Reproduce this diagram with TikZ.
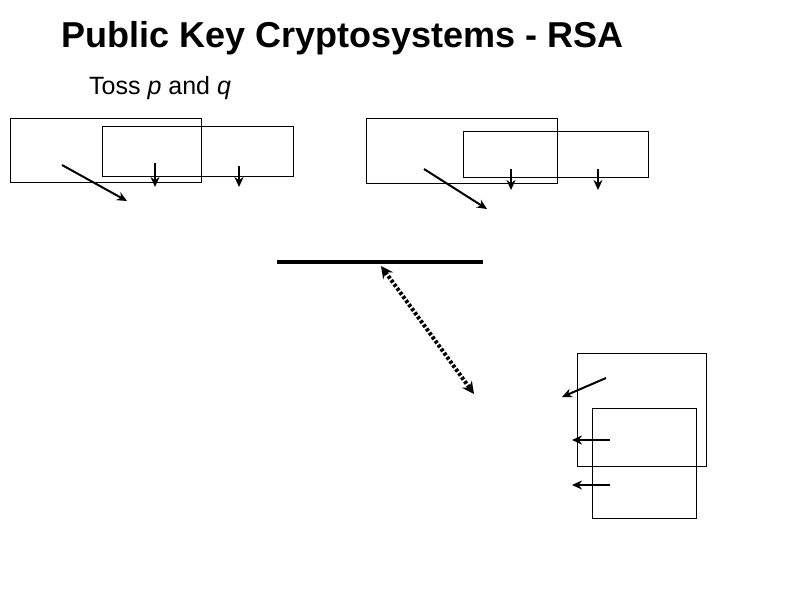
\documentclass[tikz,border=0pt]{standalone}
\usepackage{fontspec}
\setmainfont{Liberation Sans}
\usetikzlibrary{arrows.meta}
\begin{document}
\begin{tikzpicture}[x=1pt,y=-1pt,
  box/.style={draw,line width=1pt},
  arr/.style={line width=2pt,-{Stealth[length=10pt,width=9pt]}},
  dots/.style={line width=4pt,dash pattern=on 3pt off 2pt,{Stealth[length=12pt,width=12pt]}-{Stealth[length=12pt,width=12pt]}}]
\useasboundingbox (0,0) rectangle (794,595);
\node[anchor=west,inner sep=0pt,font=\bfseries\fontsize{36}{40}\selectfont] (title) at (61,38) {Public Key Cryptosystems - RSA};
\node[anchor=west,inner sep=0pt,font=\fontsize{25}{28}\selectfont] (toss) at (89,88) {Toss \textit{p} and \textit{q}};
\draw[box] (10,118) rectangle (201,182);
\draw[box] (102,126) rectangle (293,176);
\coordinate (a1) at (62,165); \coordinate (b1) at (127,201);
\coordinate (a2) at (155,163); \coordinate (b2) at (155,187);
\coordinate (a3) at (239,166); \coordinate (b3) at (239,187);
\draw[arr] (a1) -- (b1); \draw[arr] (a2) -- (b2); \draw[arr] (a3) -- (b3);
\draw[box] (366,118) rectangle (557,183);
\draw[box] (463,131) rectangle (648,177);
\coordinate (a4) at (424,169); \coordinate (b4) at (487,209);
\coordinate (a5) at (511,169); \coordinate (b5) at (511,190);
\coordinate (a6) at (598,169); \coordinate (b6) at (598,190);
\draw[arr] (a4) -- (b4); \draw[arr] (a5) -- (b5); \draw[arr] (a6) -- (b6);
\coordinate (l1) at (277,262); \coordinate (l2) at (483,262);
\draw[line width=4pt] (l1) -- (l2);
\coordinate (d1) at (381,266); \coordinate (d2) at (474,394);
\draw[dots] (d1) -- (d2);
\draw[box] (577,353) rectangle (706,466);
\draw[box] (592,408) rectangle (696,518);
\coordinate (a7) at (606,378); \coordinate (b7) at (562,397);
\coordinate (a8) at (610,440); \coordinate (b8) at (572,440);
\coordinate (a9) at (610,485); \coordinate (b9) at (572,485);
\draw[arr] (a7) -- (b7); \draw[arr] (a8) -- (b8); \draw[arr] (a9) -- (b9);
\end{tikzpicture}
\end{document}
